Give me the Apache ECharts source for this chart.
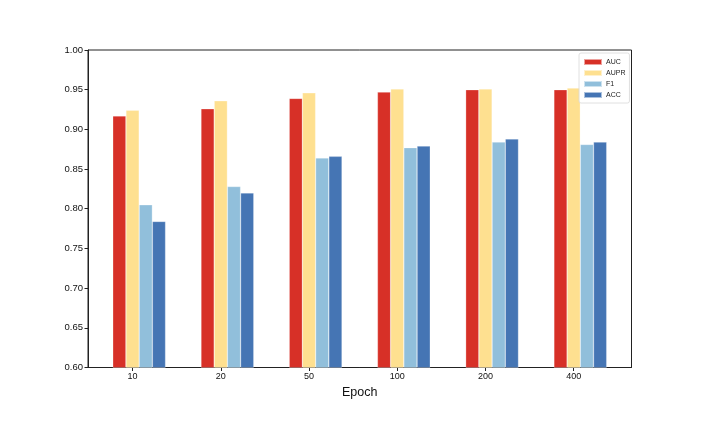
<!DOCTYPE html>
<html>
<head>
<meta charset="utf-8">
<script src="https://cdn.jsdelivr.net/npm/echarts@6/dist/echarts.min.js"></script>
<style>
html,body{margin:0;padding:0;background:#fff;}
#chart{width:702px;height:421px;}
</style>
</head>
<body>
<div id="chart"></div>
<script>
const categories = ['10', '20', '50', '100', '200', '400'];
const auc  = [0.917, 0.926, 0.939, 0.947, 0.950, 0.950];
const aupr = [0.924, 0.936, 0.946, 0.951, 0.951, 0.952];
const f1   = [0.805, 0.828, 0.864, 0.877, 0.884, 0.881];
const acc  = [0.784, 0.820, 0.866, 0.879, 0.888, 0.884];
const seriesNames = ['AUC', 'AUPR', 'F1', 'ACC'];
const seriesColors = ['#d73027', '#fee090', '#91bfdb', '#4575b4'];
const yTicks = [0.60, 0.65, 0.70, 0.75, 0.80, 0.85, 0.90, 0.95, 1.00];

const chart = echarts.init(document.getElementById('chart'), null, {renderer: 'canvas'});
const idx = categories.map((c, i) => i);
const allVals = [auc, aupr, f1, acc];
const BW = 13.2;

const series = [{
  name: '_pad', type: 'bar', data: [], barWidth: BW, barGap: '0%', silent: true
}].concat(seriesNames.map((n, k) => ({
  name: n,
  type: 'bar',
  barWidth: BW,
  barGap: '0%',
  data: allVals[k].map((v, i) => [idx[i], v]),
  itemStyle: {color: seriesColors[k], borderColor: 'rgba(255,255,255,0.55)', borderWidth: 0.5}
})));

const txt = {fontFamily: 'Liberation Sans, Arial, sans-serif', color: '#111'};

chart.setOption({
  animation: false,
  backgroundColor: '#fff',
  grid: {left: 88, top: 50, right: 70.5, bottom: 53.5, show: true, borderColor: '#222', borderWidth: 1, containLabel: false},
  legend: {
    data: seriesNames,
    orient: 'vertical',
    left: 579, top: 53,
    icon: 'rect',
    itemWidth: 18, itemHeight: 6, itemGap: 3,
    padding: [5, 4, 4, 4],
    borderColor: '#d8d8d8', borderWidth: 0.8, borderRadius: 2,
    backgroundColor: 'rgba(255,255,255,0.8)',
    textStyle: Object.assign({}, txt, {fontSize: 7, color: '#222', padding: [0,0,0,-1]})
  },
  xAxis: {
    type: 'value',
    min: -0.505, max: 5.655,
    name: 'Epoch',
    nameLocation: 'middle',
    nameGap: 12,
    nameTextStyle: Object.assign({}, txt, {fontSize: 12.5}),
    axisLine: {show: true, onZero: false, lineStyle: {color: '#222', width: 1}},
    axisTick: {show: true, customValues: idx, length: 3.5, inside: false, lineStyle: {color: '#222'}},
    axisLabel: {customValues: idx, formatter: v => categories[Math.round(v)], margin: 5, fontSize: 9, ...txt},
    splitLine: {show: false}
  },
  yAxis: {
    type: 'value',
    min: 0.60, max: 1.00, interval: 0.05,
    axisLine: {show: true, onZero: false, lineStyle: {color: '#222', width: 1}},
    axisTick: {show: true, length: 3.5, inside: false, lineStyle: {color: '#222'}},
    axisLabel: {formatter: v => v.toFixed(2), margin: 5, fontSize: 9.5, ...txt},
    splitLine: {show: false}
  },
  series: series
});
</script>
</body>
</html>
